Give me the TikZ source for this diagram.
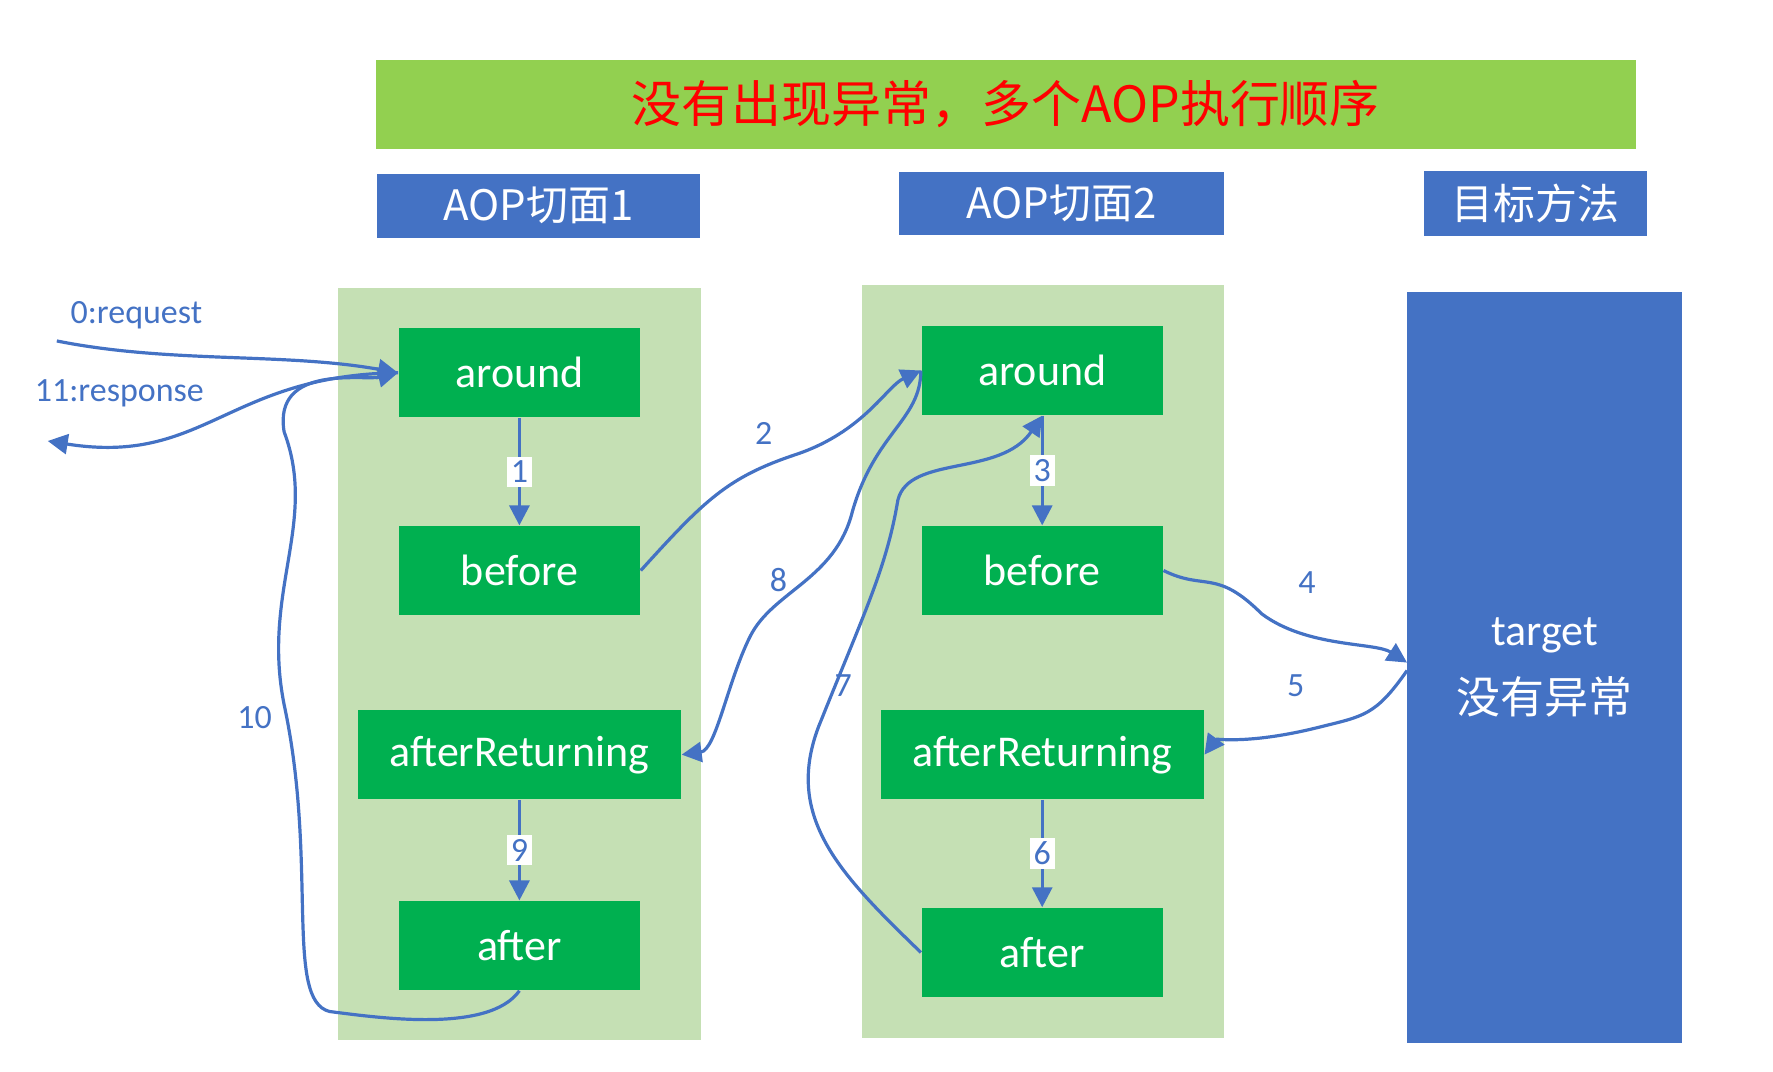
\documentclass[tikz,border=0pt]{standalone}
\usepackage{fontspec}
\setmainfont{Carlito}
\newfontfamily\cjk{Noto Sans CJK SC}
\usetikzlibrary{arrows.meta}
\definecolor{bar}{HTML}{92D050}
\definecolor{hdr}{HTML}{4472C4}
\definecolor{pane}{HTML}{C5E0B4}
\definecolor{box}{HTML}{00B050}
\tikzset{
  stage/.style={fill=box,text=white,minimum height=0.78cm,font=\fontsize{11}{12}\selectfont},
  head/.style={fill=hdr,text=white,minimum height=0.49cm,font=\cjk\fontsize{10.5}{12}\selectfont},
  flow/.style={draw=hdr,thick,-{Triangle[length=5pt,width=5pt]}},
  num/.style={text=hdr,font=\fontsize{8.5}{10}\selectfont},
  tag/.style={num,fill=white,inner sep=1pt}
}
\begin{document}
\begin{tikzpicture}[x=0.01cm,y=-0.01cm]
    \useasboundingbox (0,0) rectangle (1560,943);
    % title and headers
    \node[fill=bar,minimum width=11.08cm,minimum height=0.79cm,text=red,font=\cjk\fontsize{12.5}{14}\selectfont] (title) at (885,92) {没有出现异常，多个AOP执行顺序};
    \node[head,minimum width=2.84cm] (h1) at (474,181) {AOP切面1};
    \node[head,minimum width=2.85cm] (h2) at (934,179) {AOP切面2};
    \node[head,minimum width=1.96cm] (h3) at (1351,179) {目标方法};
    % panels
    \fill[pane] (297,253) rectangle (617,915);
    \fill[pane] (758,251) rectangle (1077,913);
    \fill[hdr] (1238,257) rectangle (1480,918);
    \node[text=white,align=center,font=\fontsize{11}{17}\selectfont] (tgt) at (1359,587) {target\\{\cjk 没有异常}};
    \coordinate (tin) at (1238,583);
    \coordinate (tout) at (1238,590);
    % first aspect
    \node[stage,minimum width=2.12cm] (ar1) at (457,328) {around};
    \node[stage,minimum width=2.12cm] (be1) at (457,502) {before};
    \node[stage,minimum width=2.84cm] (re1) at (457,664) {afterReturning};
    \node[stage,minimum width=2.12cm] (af1) at (457,832) {after};
    % second aspect
    \node[stage,minimum width=2.12cm] (ar2) at (917,326) {around};
    \node[stage,minimum width=2.12cm] (be2) at (917,502) {before};
    \node[stage,minimum width=2.84cm] (re2) at (917,664) {afterReturning};
    \node[stage,minimum width=2.12cm] (af2) at (917,838) {after};
    % request and response
    \coordinate (req) at (50,300);
    \coordinate (resp) at (42,388);
    \node[num] at (120,277) {0:request};
    \node[num] at (105,346) {11:response};
    \draw[flow] (req) .. controls (150,320) and (250,310) .. (ar1.west);
    \draw[flow] (ar1.west) .. controls (200,330) and (180,410) .. (resp);
    % numbered steps
    \draw[flow] (ar1) -- (be1) node[tag,midway] {1};
    \draw[flow] (be1.east) .. controls (620,440) and (640,420) .. (700,400)
                           .. controls (760,380) and (780,340) .. (ar2.west);
    \node[num] at (672,381) {2};
    \draw[flow] (ar2) -- (be2) node[tag,midway] {3};
    \draw[flow] (be2.east) .. controls (1060,520) and (1070,500) .. (1110,540)
                           .. controls (1150,570) and (1210,565) .. (tin);
    \node[num] at (1150,513) {4};
    \draw[flow] (tout) .. controls (1210,630) and (1200,630) .. (1160,640)
                       .. controls (1100,655) and (1070,650) .. (re2.east);
    \node[num] at (1140,603) {5};
    \draw[flow] (re2) -- (af2) node[tag,midway] {6};
    \draw[flow] (af2.west) .. controls (740,770) and (690,720) .. (720,640)
                           .. controls (760,540) and (780,500) .. (790,440)
                           .. controls (800,400) and (880,420) .. (ar2.south);
    \node[num] at (742,603) {7};
    \draw[flow] (ar2.west) .. controls (810,370) and (770,380) .. (750,450)
                           .. controls (735,510) and (680,520) .. (660,560)
                           .. controls (640,600) and (630,660) .. (re1.east);
    \node[num] at (685,510) {8};
    \draw[flow] (re1) -- (af1) node[tag,midway] {9};
    \draw[flow] (af1.south) .. controls (430,910) and (330,895) .. (290,890)
                            .. controls (250,880) and (280,760) .. (250,620)
                            .. controls (230,520) and (280,460) .. (250,380)
                            .. controls (240,320) and (320,335) .. (ar1.west);
    \node[num] at (224,631) {10};
\end{tikzpicture}
\end{document}
